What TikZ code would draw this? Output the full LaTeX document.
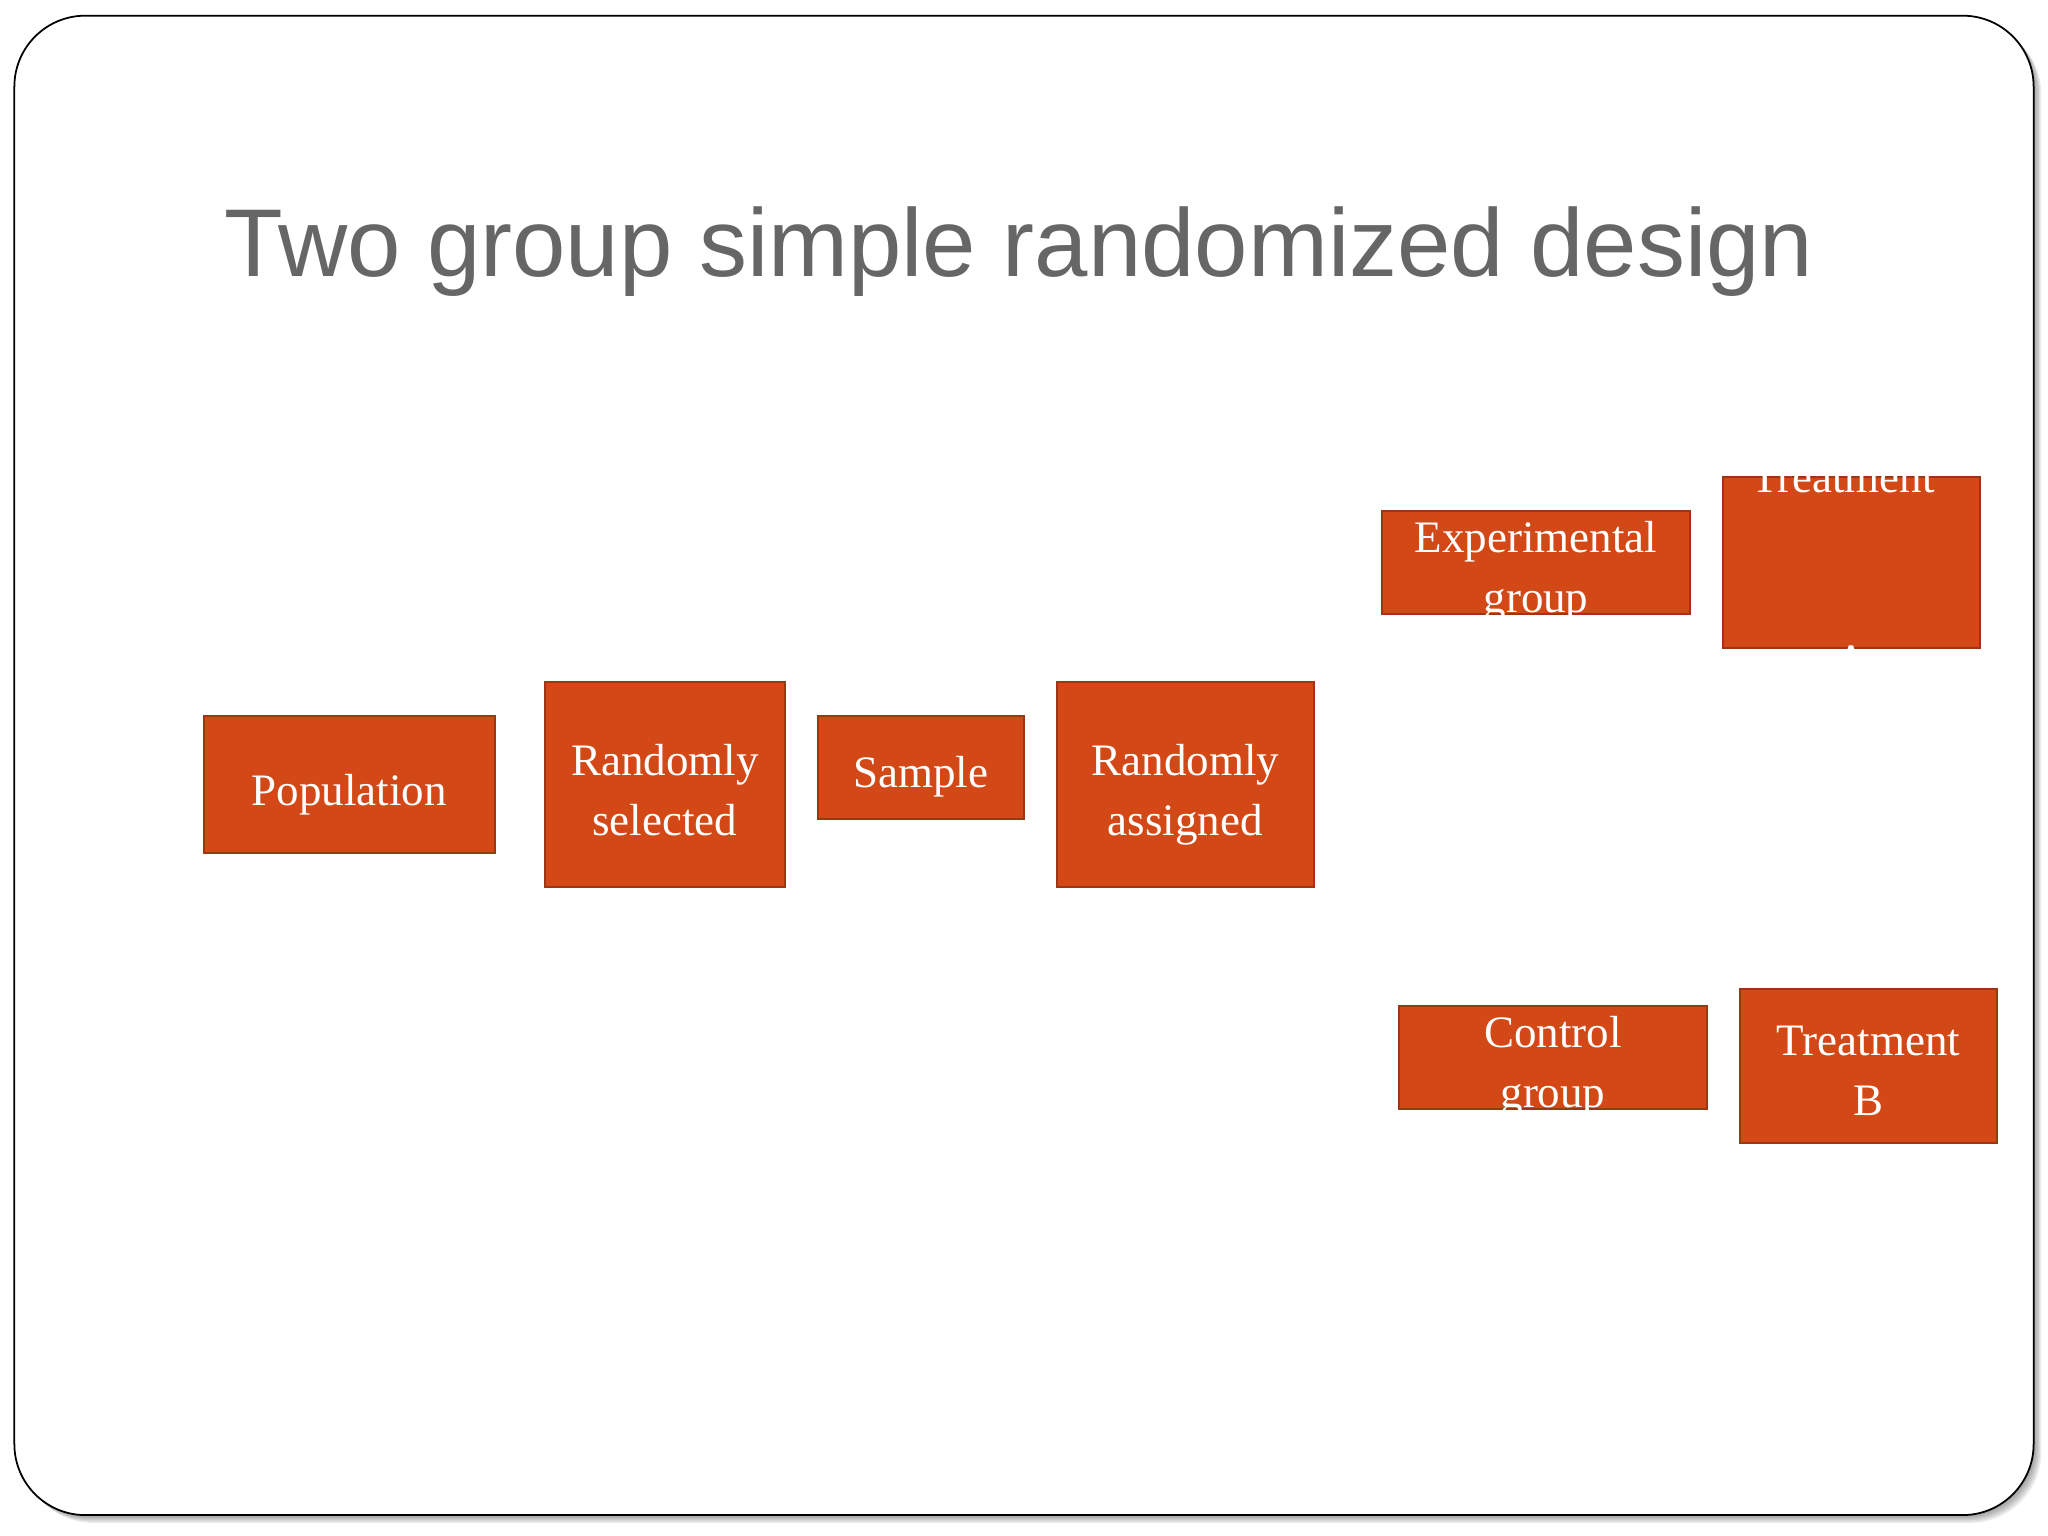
\documentclass[tikz,border=0pt]{standalone}
\usepackage{fontspec}
\newfontfamily\titlefont[FakeStretch=0.996]{Liberation Sans}
\newfontfamily\boxfont{Liberation Serif}
\newlength\dpx
\setlength\dpx{0.013061cm}
\definecolor{boxfill}{HTML}{D34817}
\definecolor{boxline}{HTML}{9E3613}
\definecolor{titlegray}{HTML}{666666}
\begin{document}
\begin{tikzpicture}[x=0.013061cm,y=-0.013061cm,
    box/.style={draw=boxline, fill=boxfill, line width=0.6pt, inner sep=0pt, outer sep=0pt, anchor=north west},
    txt/.style={text=white, font=\boxfont\fontsize{12.8}{17.1}\selectfont, inner sep=0pt, anchor=base},
    head/.style={text=titlegray, font=\titlefont\fontsize{27.4}{32}\selectfont, inner sep=0pt, anchor=base west}]
		\useasboundingbox (0,0) rectangle (1568,1176);
		% slide frame
		\foreach \s in {1,...,6}
			\fill[black, opacity=0.07, rounded corners=0.71cm] (11+\s,12+\s) rectangle (1557+\s,1160+\s);
		\draw[fill=white, line width=0.5pt, rounded corners=0.71cm] (11,12) rectangle (1557,1160);
		\node[head] (title) at (171.5,211.8) {Two group simple randomized design};
		% boxes
		\node[box, minimum width=223\dpx, minimum height=105\dpx] (pop) at (156,548) {};
		\node[box, minimum width=184\dpx, minimum height=157\dpx] (rsel) at (417,522) {};
		\node[box, minimum width=158\dpx, minimum height=79\dpx] (samp) at (626,548) {};
		\node[box, minimum width=197\dpx, minimum height=157\dpx] (rasg) at (809,522) {};
		\node[box, minimum width=236\dpx, minimum height=79\dpx] (expg) at (1058,391) {};
		\node[box, minimum width=197\dpx, minimum height=131\dpx] (trta) at (1319,365) {};
		\node[box, minimum width=236\dpx, minimum height=79\dpx] (ctrl) at (1071,770) {};
		\node[box, minimum width=197\dpx, minimum height=118\dpx] (trtb) at (1332,757) {};
		% texts
		\node[txt] (pop1) at (267.5,617) {Population};
		\node[txt] (rsel1) at (509,594) {Randomly};
		\node[txt] (rsel2) at (509,640) {selected};
		\node[txt] (samp1) at (705,603) {Sample};
		\node[txt] (rasg1) at (907.5,594) {Randomly};
		\node[txt] (rasg2) at (907.5,640) {assigned};
		\node[txt] (expg1) at (1176,423) {Experimental};
		\node[txt] (expg2) at (1176,469) {group};
		\node[txt] (trta1) at (1411,377) {Treatment};
		\node[txt] (trta2) at (1418,517) {A};
		\node[txt] (ctrl1) at (1189,802) {Control};
		\node[txt] (ctrl2) at (1189,848) {group};
		\node[txt] (trtb1) at (1430.5,808) {Treatment};
		\node[txt] (trtb2) at (1430.5,854) {B};
\end{tikzpicture}
\end{document}
